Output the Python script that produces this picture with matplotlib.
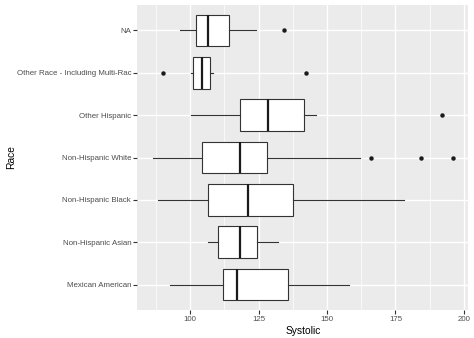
import matplotlib
matplotlib.use("Agg")
import matplotlib.pyplot as plt
import numpy as np

# categories from bottom to top
races = ["Mexican American", "Non-Hispanic Asian", "Non-Hispanic Black",
         "Non-Hispanic White", "Other Hispanic",
         "Other Race - Including Multi-Rac", "NA"]
whis_lo = [92.5, 106.4, 88.2, 86.3, 100.2, 100.2, 96.4]
q1 = [112.2, 110.2, 106.7, 104.3, 118.2, 101.2, 102.1]
median = [117.3, 118.2, 121.3, 118.4, 128.3, 104.3, 106.4]
q3 = [135.9, 124.6, 137.7, 128.2, 141.7, 107.2, 114.4]
whis_hi = [158.0, 132.1, 178.0, 162.0, 146.1, 108.2, 124.0]
outliers = [[], [], [], [166.1, 184.2, 196.1], [192.1], [90.1, 142.2], [134.2]]
x_ticks = [100, 125, 150, 175, 200]

plt.rcParams['font.family'] = ['Liberation Sans', 'DejaVu Sans']

fig = plt.figure(figsize=[4.74, 3.38], dpi=100)
ax = fig.add_axes([0.290, 0.083, 0.698, 0.902])
ax.set_facecolor('#EBEBEB')

stats = []
for i, name in enumerate(races):
    stats.append({"label": name, "med": median[i], "q1": q1[i], "q3": q3[i],
                  "whislo": whis_lo[i], "whishi": whis_hi[i], "fliers": outliers[i]})

ax.bxp(stats, positions=np.arange(1, len(races) + 1), vert=False, widths=0.75,
       patch_artist=True, showcaps=False,
       boxprops=dict(facecolor='white', edgecolor='#333333', linewidth=0.8),
       whiskerprops=dict(color='#333333', linewidth=0.8),
       medianprops=dict(color='#1a1a1a', linewidth=1.6),
       flierprops=dict(marker='o', markerfacecolor='#1a1a1a', markeredgecolor='#1a1a1a',
                       markersize=2.2, linestyle='none'),
       zorder=3)

ax.set_xlim(80.8, 201.6)
ax.set_ylim(0.4, len(races) + 0.6)
ax.set_xticks(x_ticks)
ax.set_xticks([87.5, 112.5, 137.5, 162.5, 187.5], minor=True)
ax.set_yticks(np.arange(1, len(races) + 1))
ax.set_yticklabels(races)

ax.grid(True, which='major', color='white', linewidth=1.0, zorder=0)
ax.grid(True, which='minor', axis='x', color='white', linewidth=0.5, zorder=0)
ax.set_axisbelow(True)
for s in ax.spines.values():
    s.set_visible(False)
ax.tick_params(which='major', length=3, width=0.8, color='#333333',
               labelsize=5.7, labelcolor='#4D4D4D', pad=1.5)
ax.tick_params(which='minor', length=0)

ax.set_xlabel("Systolic", fontsize=7.4, labelpad=2)
ax.set_ylabel("Race", fontsize=7.4)
ax.yaxis.set_label_coords(-0.368, 0.5)

fig.savefig("out.png", dpi=100)
